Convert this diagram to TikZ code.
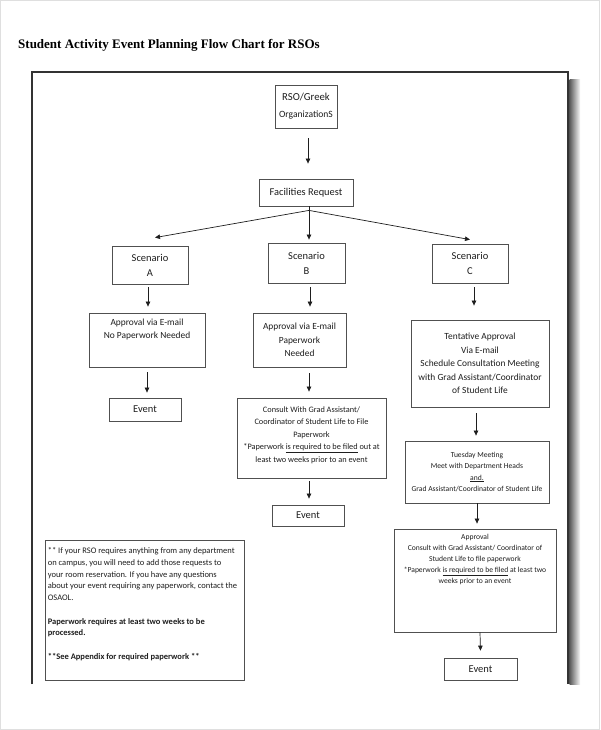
\documentclass[tikz,border=0pt]{standalone}
\usepackage{fontspec}
\setmainfont{Carlito}
\newfontfamily\titlefont{Liberation Serif}
\usetikzlibrary{arrows.meta,calc}
\definecolor{ink}{HTML}{1E1E1E}
\definecolor{boxline}{HTML}{505050}
\definecolor{framec}{HTML}{333333}
\tikzset{
 box/.style={draw=boxline, line width=0.8pt, inner sep=0pt, align=center, text=ink},
 arr/.style={-{Triangle[length=5pt,width=4.5pt]}, draw=ink, line width=0.7pt},
 txt/.style={inner sep=0pt, align=center, text=ink},
 fbig/.style={font=\fontsize{10.5}{15}\selectfont},
 fscen/.style={font=\fontsize{10.5}{15}\selectfont},
 fmid/.style={font=\fontsize{9.4}{13.5}\selectfont},
 fsm/.style={font=\fontsize{8.3}{12.5}\selectfont},
 ftiny/.style={font=\fontsize{7.6}{11.2}\selectfont},
}
\begin{document}
\begin{tikzpicture}[x=1pt,y=-1pt]
\useasboundingbox (0,0) rectangle (600,730);
\fill[white] (0,0) rectangle (600,730);
\draw[gray!25, line width=1pt] (0.5,0.5) rectangle (599.5,729.5);
% title
\node[anchor=base west, inner sep=0pt, text=black, font=\titlefont\bfseries\fontsize{13}{15}\selectfont] (title) at (18,49) {Student Activity Event Planning Flow Chart for RSOs};
% frame and shadow
\shade[left color=black!65, right color=black!3] (569.5,80) rectangle (580,684);
\draw[framec, line width=1.3pt] (32,684) -- (32,72) -- (568,72) -- (568,684);
% nodes
\node[box, minimum width=62pt, minimum height=43pt, font=\fontsize{10.7}{17}\selectfont] (rso) at (306,106.5) {RSO/Greek\\{\fontsize{9.6}{10}\selectfont OrganizationS}};
\node[box, font=\fontsize{10.4}{13}\selectfont, minimum width=94pt, minimum height=27pt] (fac) at (306,192.5) {Facilities Request};
\node[box, fscen, minimum width=76pt, minimum height=38pt] (scA) at (150,265) {Scenario\\A};
\node[box, fscen, minimum width=77pt, minimum height=40pt] (scB) at (306.5,263) {Scenario\\B};
\node[box, fscen, minimum width=76pt, minimum height=39pt] (scC) at (470,263.5) {Scenario\\C};
\node[box, minimum width=116pt, minimum height=54pt] (apA) at (147,340) {};
\node[txt, fmid, anchor=north] (apAt) at ([yshift=-6pt]apA.north) {Approval via E-mail\\No Paperwork Needed};
\node[box, fmid, minimum width=93pt, minimum height=54pt] (apB) at (299.5,340) {Approval via E-mail\\Paperwork\\Needed};
\node[box, fmid, minimum width=138pt, minimum height=87pt] (tentC) at (480,363.5) {Tentative Approval\\Via E-mail\\Schedule Consultation Meeting\\with Grad Assistant/Coordinator\\of Student Life};
\node[box, fbig, minimum width=72pt, minimum height=23pt] (evA) at (145,409.5) {Event};
\node[box, minimum width=149pt, minimum height=80pt] (cB) at (311.5,438) {};
\node[txt, fsm] (cBt) at ([yshift=3pt]cB.center) {Consult With Grad Assistant/\\Coordinator of Student Life to File\\Paperwork\\*Paperwork \underline{is required to be filed} out at\\least two weeks prior to an event};
\node[box, fbig, minimum width=72pt, minimum height=21pt] (evB) at (308,515.5) {Event};
\node[box, ftiny, minimum width=144pt, minimum height=62pt] (tue) at (477,472) {Tuesday Meeting\\Meet with Department Heads\\\underline{and.}\\Grad Assistant/Coordinator of Student Life};
\node[box, minimum width=162pt, minimum height=103pt] (apC) at (475,580.5) {};
\node[txt, ftiny, anchor=north] (apCt) at ([yshift=-5pt]apC.north) {Approval\\Consult with Grad Assistant/ Coordinator of\\Student Life to file paperwork\\*Paperwork \underline{is required to be filed} at least two\\weeks prior to an event};
\node[box, fbig, minimum width=73pt, minimum height=22pt] (evC) at (480.5,669) {Event};
\node[box, minimum width=199pt, minimum height=140pt] (note) at (144.5,610) {};
\node[txt, anchor=north west, align=left, font=\fontsize{8.5}{11.7}\selectfont] (notet) at ([xshift=3pt,yshift=-8pt]note.north west) {** If your RSO requires anything from any department\\on campus, you will need to add those requests to\\your room reservation. If you have any questions\\about your event requiring any paperwork, contact the\\OSAOL.\\[11.7pt]\textbf{Paperwork requires at least two weeks to be}\\\textbf{processed.}\\[11.7pt]\textbf{**See Appendix for required paperwork **}};
% connectors
\coordinate (br) at ([xshift=3pt,yshift=-4pt]fac.south);
\draw[ink, line width=0.7pt] (fac.south -| br) -- (br);
\draw[arr] (br) -- ([xshift=5pt,yshift=8pt]scA.north);
\draw[arr] (br) -- ([xshift=2.5pt,yshift=3pt]scB.north);
\draw[arr] (br) -- ([yshift=4pt]scC.north);
\draw[arr] ([xshift=2pt,yshift=-10pt]rso.south) -- ([xshift=2pt,yshift=15pt]fac.north);
\draw[arr] ([xshift=-2pt,yshift=-3pt]scA.south) -- ([xshift=1pt,yshift=6pt]apA.north);
\draw[arr] ([xshift=3.5pt,yshift=-4pt]scB.south) -- ([xshift=10.5pt,yshift=6pt]apB.north);
\draw[arr] ([xshift=4pt,yshift=-4pt]scC.south) -- ([xshift=-6pt,yshift=14pt]tentC.north);
\draw[arr] ([yshift=-5pt]apA.south) -- ([xshift=2pt,yshift=5pt]evA.north);
\draw[arr] ([xshift=9.5pt,yshift=-6pt]apB.south) -- ([xshift=-2.5pt,yshift=6pt]cB.north);
\draw[arr] ([xshift=-2.5pt,yshift=-3pt]cB.south) -- ([xshift=1pt,yshift=6pt]evB.north);
\draw[arr] ([xshift=-4pt,yshift=-6pt]tentC.south) -- ([xshift=-1pt,yshift=5pt]tue.north);
\draw[arr] (tue.south) -- ([xshift=2pt,yshift=5pt]apC.north);
\draw[arr] ([xshift=5pt]apC.south) -- ([yshift=7pt]evC.north);
\end{tikzpicture}
\end{document}
